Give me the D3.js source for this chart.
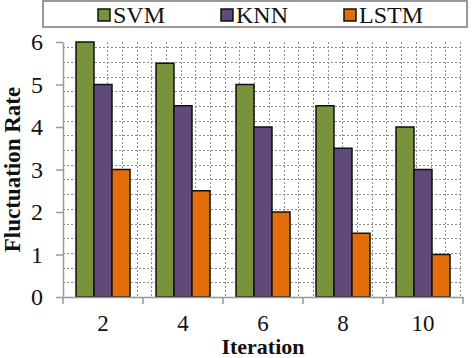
<!DOCTYPE html>
<html>
<head>
<meta charset="utf-8">
<script src="https://cdn.jsdelivr.net/npm/d3@7"></script>
<style>
  body { margin: 0; background: #fff; }
  svg text { font-family: "Liberation Serif", "Times New Roman", serif !important; fill: #111; }
</style>
</head>
<body>
<div id="chart"></div>
<script>
// data
const iterations = ["2", "4", "6", "8", "10"];
const methods = ["SVM", "KNN", "LSTM"];
const svmValues = [6, 5.5, 5, 4.5, 4];
const knnValues = [5, 4.5, 4, 3.5, 3];
const lstmValues = [3, 2.5, 2, 1.5, 1];
const yTicks = [0, 1, 2, 3, 4, 5, 6];
const colors = ["#77933C", "#604A7B", "#E46C0A"];

const seriesValues = [svmValues, knnValues, lstmValues];
const data = iterations.map(function(it, i) {
  return { iteration: it, values: methods.map(function(m, j) { return { method: m, value: seriesValues[j][i] }; }) };
});

const W = 474, H = 358;
const margin = {top: 42, right: 11, bottom: 61, left: 63};
const width = W - margin.left - margin.right;
const height = H - margin.top - margin.bottom;

const root = d3.select("#chart").append("svg")
  .attr("width", W)
  .attr("height", H);

const svg = root.append("g")
  .attr("transform", "translate(" + margin.left + "," + margin.top + ")");

// scales
const x0 = d3.scaleBand().domain(iterations).range([0, width]).padding(0);
const x1 = d3.scaleBand().domain(methods).range([13, x0.bandwidth() - 13]).padding(0);
const y = d3.scaleLinear().domain([0, 6]).range([height, 0]);

// dotted background grid (square cells of ~14.7px)
const step = 14.7;
const grid = svg.append("g").attr("class", "grid")
  .attr("stroke", "#8c8c8c")
  .attr("stroke-width", 1)
  .attr("stroke-dasharray", "2,2")
  .attr("shape-rendering", "crispEdges");
grid.selectAll("line.h")
  .data(d3.range(1, Math.floor((height - 5) / step) + 1))
  .enter().append("line")
    .attr("class", "h")
    .attr("x1", 0).attr("x2", width)
    .attr("y1", function(k) { return Math.round(height - k * step) + 0.5; })
    .attr("y2", function(k) { return Math.round(height - k * step) + 0.5; });
grid.selectAll("line.v")
  .data(d3.range(1, Math.floor(width / step) + 1))
  .enter().append("line")
    .attr("class", "v")
    .attr("y1", 0).attr("y2", height)
    .attr("x1", function(k) { return Math.round(k * step) + 0.5; })
    .attr("x2", function(k) { return Math.round(k * step) + 0.5; });

// bars
const groups = svg.selectAll("g.group")
  .data(data)
  .enter().append("g")
    .attr("class", "group")
    .attr("transform", function(d) { return "translate(" + x0(d.iteration) + ",0)"; });

groups.selectAll("rect")
  .data(function(d) { return d.values; })
  .enter().append("rect")
    .attr("x", function(d) { return x1(d.method); })
    .attr("y", function(d) { return y(d.value); })
    .attr("width", x1.bandwidth())
    .attr("height", function(d) { return height - y(d.value); })
    .attr("fill", function(d, i) { return colors[i]; })
    .attr("stroke", "#111")
    .attr("stroke-width", 1.5);

// y axis
const yAxis = svg.append("g")
  .call(d3.axisLeft(y).tickValues(yTicks).tickFormat(d3.format("d"))
    .tickSize(7).tickPadding(13).tickSizeOuter(0));
yAxis.attr("font-family", null).attr("font-size", null);
yAxis.selectAll("path, line").attr("stroke", "#999").attr("stroke-width", 1.5);
yAxis.selectAll("text").attr("font-size", 24).attr("fill", "#111");

// x axis
const xAxis = svg.append("g")
  .attr("transform", "translate(0," + height + ")")
  .call(d3.axisBottom(x0).tickSize(0).tickSizeOuter(0));
xAxis.attr("font-family", null).attr("font-size", null);
xAxis.select(".domain").attr("stroke", "#999").attr("stroke-width", 1.5);
xAxis.selectAll("text")
  .attr("y", 34).attr("dy", 0)
  .attr("font-size", 23).attr("fill", "#111");
xAxis.selectAll("line.bound")
  .data(iterations.concat(["end"]))
  .enter().append("line")
    .attr("class", "bound")
    .attr("x1", function(d) { return d === "end" ? width : x0(d); })
    .attr("x2", function(d) { return d === "end" ? width : x0(d); })
    .attr("y1", 0).attr("y2", 7)
    .attr("stroke", "#999").attr("stroke-width", 1.5);

// axis titles
svg.append("text")
  .attr("x", width / 2)
  .attr("y", height + 57)
  .attr("text-anchor", "middle")
  .attr("font-size", 22)
  .attr("font-weight", "bold")
  .text("Iteration");

root.append("text")
  .attr("transform", "translate(20," + (margin.top + height / 2) + ") rotate(-90)")
  .attr("text-anchor", "middle")
  .attr("font-size", 23)
  .attr("font-weight", "bold")
  .text("Fluctuation Rate");

// legend
const legend = root.append("g");
legend.append("rect")
  .attr("x", 43).attr("y", 1)
  .attr("width", 424).attr("height", 26)
  .attr("fill", "#fff")
  .attr("stroke", "#999")
  .attr("stroke-width", 2);

const legendItem = legend.selectAll("g.item")
  .data(methods)
  .enter().append("g")
    .attr("class", "item")
    .attr("transform", function(d, i) { return "translate(" + (98 + i * 123) + ",0)"; });
legendItem.append("rect")
  .attr("x", 0).attr("y", 9)
  .attr("width", 12).attr("height", 12)
  .attr("fill", function(d, i) { return colors[i]; })
  .attr("stroke", "#111")
  .attr("stroke-width", 1.5);
legendItem.append("text")
  .attr("x", 15).attr("y", 23)
  .attr("font-size", 24)
  .text(function(d) { return d; });
</script>
</body>
</html>
